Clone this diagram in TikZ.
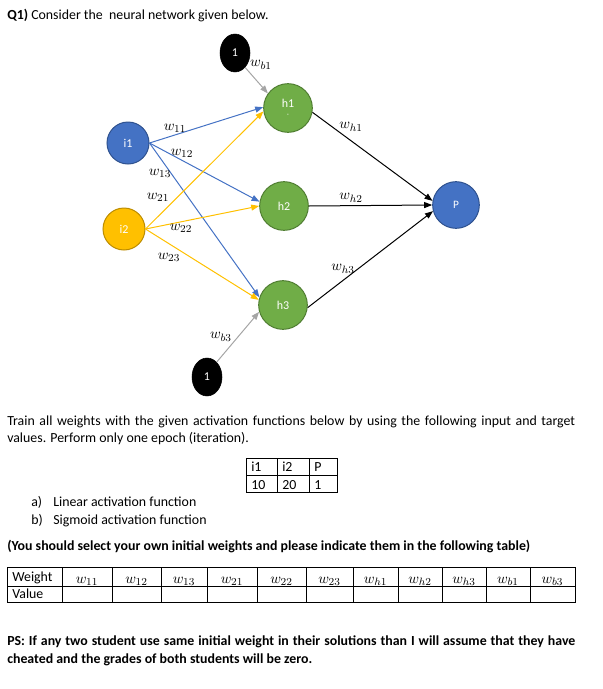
\documentclass[tikz,border=0pt]{standalone}
\usepackage{fontspec}
\setmainfont{Carlito}
\usetikzlibrary{arrows.meta, positioning, shapes.geometric}

\definecolor{nnblue}{HTML}{4472C4}
\definecolor{nnblueline}{HTML}{2F528F}
\definecolor{nnyellow}{HTML}{FFC000}
\definecolor{nnyellowline}{HTML}{BC8C00}
\definecolor{nngreen}{HTML}{70AD47}
\definecolor{nngreenline}{HTML}{507E32}
\definecolor{nngray}{HTML}{A5A5A5}

\tikzset{
  txt/.style={inner sep=0pt, font=\fontsize{10.4}{13}\selectfont},
  neuron/.style={circle, line width=0.75pt, text=white, inner sep=0pt,
                 font=\fontsize{9}{10}\selectfont},
  inputA/.style={neuron, draw=nnblueline, fill=nnblue, minimum size=31.5pt},
  inputB/.style={neuron, draw=nnyellowline, fill=nnyellow, minimum size=31.5pt},
  hidden/.style={neuron, draw=nngreenline, fill=nngreen, minimum size=36.5pt},
  output/.style={neuron, draw=nnblueline, fill=nnblue, minimum size=35pt,
                 font=\fontsize{8.5}{10}\selectfont},
  bias/.style={ellipse, draw=black, fill=black, text=white, inner sep=0pt,
               minimum width=22.5pt, minimum height=28.5pt,
               font=\fontsize{9}{10}\selectfont},
  link/.style={line width=0.75pt, -{Triangle[length=6pt,width=4.5pt]}},
  wlab/.style={inner sep=0pt, font=\fontsize{11}{12}\selectfont}
}

\begin{document}
\begin{tikzpicture}[x=0.75pt, y=-0.75pt]
  \useasboundingbox (0,0) rectangle (603,689);

  % heading
  \node[txt, anchor=base west] (title) at (7,19)
    {\textbf{Q1)} Consider the\ \ neural network given below.};

  % neurons
  \node[bias] (b1) at (235,53) {1};
  \node[inputA] (i1) at (128,143) {i1};
  \node[inputB] (i2) at (124,229) {i2};
  \node[hidden, align=center] (h1) at (288,108)
    {h1\\[-3pt]{\fontsize{5}{5}\selectfont -}};
  \node[hidden] (h2) at (284,206) {h2};
  \node[hidden] (h3) at (283,305) {h3};
  \node[output] (P) at (456,205) {P};
  \node[bias] (b3) at (207,377) {1};

  % connections from the inputs
  \draw[link, nnblue]   (i1.east) -- (h1.178);
  \draw[link, nnblue]   (i1.east) -- (h2.170);
  \draw[link, nnblue]   (i1.east) -- (h3.162);
  \draw[link, nnyellow] (i2.east) -- (h1.188);
  \draw[link, nnyellow] (i2.east) -- (h2.180);
  \draw[link, nnyellow] (i2.east) -- (h3.168);

  % bias connections
  \draw[link, nngray] (b1.-55) -- (h1.144);
  \draw[link, nngray] (b3.57) -- (h3.196);

  % connections to the output
  \draw[link, black] (h1.-10) -- (P.170);
  \draw[link, black] (h2.east) -- (P.180);
  \draw[link, black] (h3.-6) -- (P.195);

  % weight labels
  \node[wlab] (lw11) at (175,128) {$w_{11}$};
  \node[wlab] (lw12) at (182,153) {$w_{12}$};
  \node[wlab] (lw13) at (160,173) {$w_{13}$};
  \node[wlab] (lw21) at (158,197) {$w_{21}$};
  \node[wlab] (lw22) at (181,228) {$w_{22}$};
  \node[wlab] (lw23) at (169,257) {$w_{23}$};
  \node[wlab] (lwh1) at (351,127) {$w_{h1}$};
  \node[wlab] (lwh2) at (351,198) {$w_{h2}$};
  \node[wlab] (lwh3) at (343,269) {$w_{h3}$};
  \node[wlab] (lwb1) at (261,65)  {$w_{b1}$};
  \node[wlab] (lwb3) at (221,337) {$w_{b3}$};

  % task text
  \node[txt, anchor=base west] (task1) at (7,425)
    {\makebox[426pt][s]{Train all weights with the given activation functions below by using the following input and target}};
  \node[txt, anchor=base west] (task2) at (7,442)
    {values. Perform only one epoch (iteration).};

  % input / target table
  \draw[line width=0.75pt] (246,458) rectangle (337,492);
  \draw[line width=0.75pt] (246,475) -- (337,475);
  \draw[line width=0.75pt] (277,458) -- (277,492);
  \draw[line width=0.75pt] (309,458) -- (309,492);
  \node[txt, anchor=base west] (ti1) at (251,471) {i1};
  \node[txt, anchor=base west] (ti2) at (282,471) {i2};
  \node[txt, anchor=base west] (tP)  at (314,471) {P};
  \node[txt, anchor=base west] (vi1) at (251,489) {10};
  \node[txt, anchor=base west] (vi2) at (282,489) {20};
  \node[txt, anchor=base west] (vP)  at (314,489) {1};

  % activation functions
  \node[txt, anchor=base west] (itemA) at (31,506) {a)};
  \node[txt, anchor=base west] (actA)  at (53,506) {Linear activation function};
  \node[txt, anchor=base west] (itemB) at (31,524) {b)};
  \node[txt, anchor=base west] (actB)  at (53,524) {Sigmoid activation function};

  \node[txt, anchor=base west] (note) at (7,550)
    {\textbf{(You should select your own initial weights and please indicate them in the following table)}};

  % weight table
  \draw[line width=0.75pt] (7,567) rectangle (575,602);
  \draw[line width=0.75pt] (7,586) -- (575,586);
  \foreach \x in {62,112,161,207,257,306,353,398,442,486,530}
    \draw[line width=0.75pt] (\x,567) -- (\x,602);
  \node[txt, anchor=base west] (wname) at (12,581) {Weight};
  \node[txt, anchor=base west] (wval)  at (12,598) {Value};
  \foreach \xa/\xb/\lab [count=\k] in {62/112/w_{11}, 112/161/w_{12}, 161/207/w_{13},
      207/257/w_{21}, 257/306/w_{22}, 306/353/w_{23}, 353/398/w_{h1},
      398/442/w_{h2}, 442/486/w_{h3}, 486/530/w_{b1}, 530/575/w_{b3}}
    \node[wlab, anchor=base] (wcol\k) at ({(\xa+\xb)/2},583) {$\lab$};

  % warning
  \node[txt, anchor=base west] (ps1) at (7,645)
    {\bfseries\makebox[426pt][s]{PS: If any two student use same initial weight in their solutions than I will assume that they have}};
  \node[txt, anchor=base west] (ps2) at (7,663)
    {\textbf{cheated and the grades of both students will be zero.}};
\end{tikzpicture}
\end{document}
